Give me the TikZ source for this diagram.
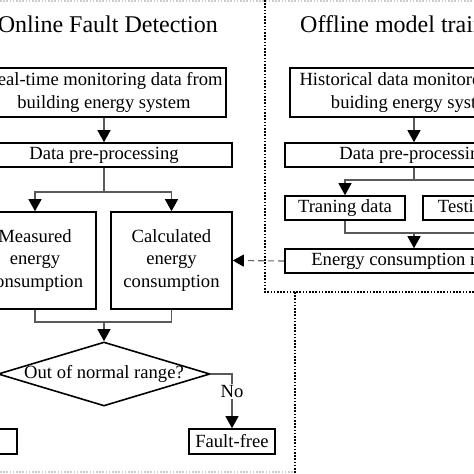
\documentclass[tikz,border=0pt]{standalone}
\usepackage{fontspec}
\setmainfont{Liberation Serif}
\usetikzlibrary{arrows.meta,shapes.geometric}
\newcommand\fsbody{\fontsize{18.6}{22.5}\selectfont}
\newcommand\fstitle{\fontsize{24}{28}\selectfont}
\begin{document}
\begin{tikzpicture}[x=1pt,y=-1pt,
  box/.style={draw=black, line width=1.6pt, inner sep=0pt, align=center, font=\fsbody},
  conn/.style={draw=black!65, line width=1.1pt},
  arr/.style={conn, -{Triangle[width=13pt,length=12pt,color=black]}},
  dasharr/.style={draw=black!60, line width=1.1pt, dash pattern=on 6pt off 4pt, -{Triangle[width=12pt,length=11pt,color=black]}},
  border/.style={draw=black, line width=1.6pt, dash pattern=on 1.6pt off 1.6pt},
  faint/.style={draw=black!20, line width=1.2pt, dash pattern=on 1.6pt off 1.6pt},
  title/.style={font=\fstitle, inner sep=0pt}
]
\useasboundingbox (0,0) rectangle (474,474);
\fill[white] (0,0) rectangle (474,474);
\clip (0,0) rectangle (474,474);

% borders
\draw[faint] (0,1) -- (474,1);
\draw[faint] (0,472) -- (295,472);
\draw[border] (265,0) -- (265,292) -- (476,292);
\draw[border] (295,292) -- (295,476);

% titles
\node[title, anchor=base east] (t1) at (218,32) {Online Fault Detection};
\node[title, anchor=base west] (t2) at (300,32) {Offline model training};

% left column
\node[box, minimum width=244pt, minimum height=49pt] (rt) at (104,92.5) {Real-time monitoring data from\\building energy system};
\node[box, minimum width=256pt, minimum height=24pt] (dp1) at (104,155) {Data pre-processing};
\node[box, minimum width=122pt, minimum height=97pt] (meas) at (35,260.5) {Measured\\energy\\consumption};
\node[box, minimum width=121pt, minimum height=97pt] (calc) at (171.5,260.5) {Calculated\\energy\\consumption};
\node[draw=black, line width=1.6pt, diamond, minimum width=212pt, minimum height=64pt, inner sep=0pt] (dia) at (104,374) {};
\node[font=\fsbody, inner sep=0pt] (diat) at (dia.center) {Out of normal range?};
\node[box, minimum width=86pt, minimum height=25pt] (ff) at (232,441.5) {Fault-free};
\node[box, minimum width=74pt, minimum height=25pt] (fb) at (-20,441.5) {};

\coordinate (j1) at (104,192);
\coordinate (j2) at (104,322);
\draw[arr] (rt.south) -- (dp1.north);
\draw[conn] (dp1.south) -- (j1);
\draw[arr] (j1) -| (meas.north);
\draw[arr] (j1) -| (calc.north);
\draw[conn] (meas.south) |- (j2);
\draw[conn] (calc.south) |- (j2);
\draw[arr] (j2) -- (dia.north);
\draw[arr] (dia.east) -| node[pos=0.66, fill=white, inner sep=1pt, font=\fsbody] (no) {No} (ff.north);

% right column
\node[box, minimum width=250pt, minimum height=49pt] (hist) at (415,92.5) {Historical data monitored from\\buiding energy system};
\node[box, minimum width=258pt, minimum height=24pt] (dp2) at (414,155) {Data pre-processing};
\node[box, minimum width=120pt, minimum height=24pt] (trn) at (345,208) {Traning data};
\node[box, minimum width=120pt, minimum height=24pt] (tst) at (483,208) {Testing data};
\node[box, minimum width=258pt, minimum height=24pt] (ecm) at (414,261) {Energy consumption model};

\coordinate (j3) at (414,180);
\coordinate (j4) at (414,233);
\draw[arr] (hist.south -| dp2.north) -- (dp2.north);
\draw[conn] (dp2.south) -- (j3);
\draw[arr] (j3) -| (trn.north);
\draw[arr] (j3) -| (tst.north);
\draw[conn] (trn.south) |- (j4);
\draw[conn] (tst.south) |- (j4);
\draw[arr] (j4) -- (ecm.north);
\draw[dasharr] (ecm.west) -- (calc.east);
\end{tikzpicture}
\end{document}
